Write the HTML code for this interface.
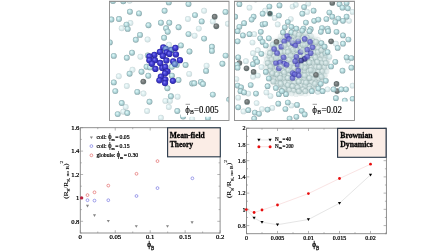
<!DOCTYPE html>
<html><head><meta charset="utf-8"><style>
html,body{margin:0;padding:0;background:#fff;}
svg{display:block;}
text{font-family:"Liberation Serif","DejaVu Serif",serif;fill:#000;stroke:#000;stroke-width:0.24px;}
.tk{font-size:7.2px;}
.tk2{font-size:7.4px;}
.tky{font-size:6.6px;}
.tkry{font-size:6.8px;}
.tkx{font-size:6.0px;}
.lg{font-size:6.6px;}
.lg2{font-size:6.0px;}
.sub{font-size:4.6px;}
.sub2{font-size:5.6px;}
.sub3{font-size:5.4px;}
.phi{font-size:7.2px;}
.bx{font-size:8.2px;font-weight:bold;stroke-width:0.3px;}
.ax{font-size:7.2px;stroke-width:0.3px;}
.axb{font-size:6.2px;stroke-width:0.25px;}
.ylab{font-size:7.4px;stroke-width:0.1px;}
.pl{font-size:9.4px;stroke-width:0.14px;}
.psub{font-size:6.2px;}
</style></head><body>
<svg width="448" height="252" viewBox="0 0 448 252">

<defs>
<radialGradient id="gt" cx="0.5" cy="0.5" r="0.5" fx="0.38" fy="0.35">
 <stop offset="0" stop-color="#eafafb"/><stop offset="0.4" stop-color="#c2e6e8"/><stop offset="0.75" stop-color="#a2c6ca"/><stop offset="1" stop-color="#84a2a6"/></radialGradient>
<radialGradient id="gd" cx="0.5" cy="0.5" r="0.5" fx="0.38" fy="0.35">
 <stop offset="0" stop-color="#9aa0a0"/><stop offset="0.55" stop-color="#727878"/><stop offset="0.85" stop-color="#666e6e"/><stop offset="1" stop-color="#7a8c8c"/></radialGradient>
<radialGradient id="gg" cx="0.5" cy="0.5" r="0.5" fx="0.38" fy="0.35">
 <stop offset="0" stop-color="#6f7f80"/><stop offset="0.6" stop-color="#4f5f60"/><stop offset="1" stop-color="#7fa8a8"/></radialGradient>
<radialGradient id="gb" cx="0.5" cy="0.5" r="0.5" fx="0.38" fy="0.35">
 <stop offset="0" stop-color="#8682f2"/><stop offset="0.45" stop-color="#4642d6"/><stop offset="0.85" stop-color="#302cb4"/><stop offset="1" stop-color="#242090"/></radialGradient>
<radialGradient id="gm" cx="0.5" cy="0.5" r="0.5" fx="0.38" fy="0.35">
 <stop offset="0" stop-color="#a0c0e8"/><stop offset="0.55" stop-color="#6a8ad0"/><stop offset="1" stop-color="#4060a8"/></radialGradient>
<radialGradient id="gb2" cx="0.5" cy="0.5" r="0.5" fx="0.38" fy="0.35">
 <stop offset="0" stop-color="#8c88ee"/><stop offset="0.5" stop-color="#5652d2"/><stop offset="1" stop-color="#3e3ca4"/></radialGradient>
<radialGradient id="gn" cx="0.5" cy="0.5" r="0.5" fx="0.38" fy="0.35">
 <stop offset="0" stop-color="#7070d0"/><stop offset="0.55" stop-color="#3a3aa0"/><stop offset="1" stop-color="#2a2a70"/></radialGradient>
<radialGradient id="gh" cx="0.5" cy="0.5" r="0.5" fx="0.38" fy="0.35">
 <stop offset="0" stop-color="#f2f9f9"/><stop offset="0.5" stop-color="#cadede"/><stop offset="0.85" stop-color="#aec6c6"/><stop offset="1" stop-color="#94acac"/></radialGradient>
<radialGradient id="haze" cx="297" cy="63" r="35" gradientUnits="userSpaceOnUse">
 <stop offset="0" stop-color="#cddcdc"/><stop offset="0.85" stop-color="#d4e2e2"/><stop offset="1" stop-color="#ffffff" stop-opacity="0"/></radialGradient>
<filter id="soft" x="0" y="0" width="1" height="1"><feGaussianBlur stdDeviation="0.3"/></filter>
<clipPath id="c1"><rect x="109.5" y="1.5" width="119.5" height="119"/></clipPath>
<clipPath id="c2"><rect x="234.5" y="1.5" width="120" height="119"/></clipPath>
</defs>

<g filter="url(#soft)">
<rect width="448" height="252" fill="#fff"/>

<rect x="109.5" y="1.5" width="119.5" height="119" fill="#fff"/>
<rect x="234.5" y="1.5" width="120" height="119" fill="#fff"/>
<g clip-path="url(#c1)"><circle cx="129.6" cy="0.8" r="2.95" fill="url(#gt)" opacity="0.45"/><circle cx="130.4" cy="23.0" r="2.95" fill="url(#gt)" opacity="0.45"/><circle cx="121.7" cy="28.3" r="2.95" fill="url(#gt)" opacity="0.45"/><circle cx="147.6" cy="39.5" r="2.95" fill="url(#gt)" opacity="0.45"/><circle cx="187.9" cy="19.0" r="2.95" fill="url(#gt)" opacity="0.45"/><circle cx="204.1" cy="10.8" r="2.95" fill="url(#gt)" opacity="0.45"/><circle cx="212.8" cy="21.4" r="2.95" fill="url(#gt)" opacity="0.45"/><circle cx="198.8" cy="28.6" r="2.95" fill="url(#gt)" opacity="0.45"/><circle cx="194.6" cy="35.7" r="2.95" fill="url(#gt)" opacity="0.45"/><circle cx="227.9" cy="23.8" r="2.95" fill="url(#gt)" opacity="0.45"/><circle cx="140.4" cy="56.7" r="2.95" fill="url(#gt)" opacity="0.45"/><circle cx="132.5" cy="69.8" r="2.95" fill="url(#gt)" opacity="0.45"/><circle cx="118.8" cy="76.2" r="2.95" fill="url(#gt)" opacity="0.45"/><circle cx="169.0" cy="44.8" r="2.95" fill="url(#gt)" opacity="0.45"/><circle cx="189.2" cy="73.9" r="2.95" fill="url(#gt)" opacity="0.45"/><circle cx="126.8" cy="86.0" r="2.95" fill="url(#gt)" opacity="0.45"/><circle cx="143.5" cy="93.5" r="2.95" fill="url(#gt)" opacity="0.45"/><circle cx="125.7" cy="107.0" r="2.95" fill="url(#gt)" opacity="0.45"/><circle cx="123.3" cy="111.7" r="2.95" fill="url(#gt)" opacity="0.45"/><circle cx="147.1" cy="111.0" r="2.95" fill="url(#gt)" opacity="0.45"/><circle cx="177.6" cy="96.7" r="2.95" fill="url(#gt)" opacity="0.45"/><circle cx="165.4" cy="100.9" r="2.95" fill="url(#gt)" opacity="0.45"/><circle cx="169.9" cy="100.9" r="2.95" fill="url(#gt)" opacity="0.45"/><circle cx="168.8" cy="107.0" r="2.95" fill="url(#gt)" opacity="0.45"/><circle cx="160.9" cy="117.8" r="2.95" fill="url(#gt)" opacity="0.45"/><circle cx="192.2" cy="118.9" r="2.95" fill="url(#gt)" opacity="0.45"/><circle cx="206.6" cy="65.7" r="2.95" fill="url(#gt)" opacity="0.45"/><circle cx="113.0" cy="1.0" r="2.95" fill="url(#gt)"/><circle cx="123.3" cy="1.2" r="2.95" fill="url(#gt)"/><circle cx="129.9" cy="11.7" r="2.95" fill="url(#gt)"/><circle cx="139.0" cy="13.4" r="2.95" fill="url(#gt)"/><circle cx="111.4" cy="19.5" r="2.95" fill="url(#gt)"/><circle cx="119.0" cy="19.0" r="2.95" fill="url(#gt)"/><circle cx="126.5" cy="24.6" r="2.95" fill="url(#gt)"/><circle cx="127.7" cy="28.9" r="2.95" fill="url(#gt)"/><circle cx="148.5" cy="25.2" r="2.95" fill="url(#gt)"/><circle cx="140.0" cy="34.9" r="2.95" fill="url(#gt)"/><circle cx="135.8" cy="39.8" r="2.95" fill="url(#gt)"/><circle cx="168.8" cy="2.4" r="2.95" fill="url(#gt)"/><circle cx="188.5" cy="4.0" r="2.95" fill="url(#gt)"/><circle cx="164.6" cy="10.8" r="2.95" fill="url(#gt)"/><circle cx="160.9" cy="22.7" r="2.95" fill="url(#gt)"/><circle cx="169.3" cy="22.7" r="2.95" fill="url(#gt)"/><circle cx="166.1" cy="28.3" r="2.95" fill="url(#gt)"/><circle cx="167.7" cy="31.7" r="2.95" fill="url(#gt)"/><circle cx="178.6" cy="27.3" r="2.95" fill="url(#gt)"/><circle cx="164.1" cy="37.8" r="2.95" fill="url(#gt)"/><circle cx="195.0" cy="15.1" r="2.95" fill="url(#gt)"/><circle cx="225.5" cy="11.9" r="2.95" fill="url(#gt)"/><circle cx="214.7" cy="16.7" r="2.95" fill="url(#gd)"/><circle cx="201.7" cy="21.4" r="2.95" fill="url(#gt)"/><circle cx="216.3" cy="26.2" r="2.95" fill="url(#gd)"/><circle cx="188.5" cy="34.1" r="2.95" fill="url(#gt)"/><circle cx="204.1" cy="38.6" r="2.95" fill="url(#gt)"/><circle cx="109.8" cy="42.4" r="2.95" fill="url(#gt)"/><circle cx="113.8" cy="55.9" r="2.95" fill="url(#gt)"/><circle cx="132.0" cy="52.7" r="2.95" fill="url(#gt)"/><circle cx="126.8" cy="57.8" r="2.95" fill="url(#gt)"/><circle cx="129.6" cy="73.7" r="2.95" fill="url(#gt)"/><circle cx="141.5" cy="71.7" r="2.95" fill="url(#gt)"/><circle cx="148.3" cy="75.7" r="2.95" fill="url(#gt)"/><circle cx="147.8" cy="55.5" r="2.95" fill="url(#gt)"/><circle cx="146.6" cy="66.8" r="2.95" fill="url(#gt)"/><circle cx="180.9" cy="45.4" r="2.95" fill="url(#gt)"/><circle cx="189.5" cy="51.5" r="2.95" fill="url(#gt)"/><circle cx="185.6" cy="65.0" r="2.95" fill="url(#gt)"/><circle cx="171.9" cy="66.8" r="2.95" fill="url(#gt)"/><circle cx="176.7" cy="65.0" r="2.95" fill="url(#gt)"/><circle cx="150.1" cy="67.4" r="2.95" fill="url(#gt)"/><circle cx="143.3" cy="81.6" r="2.95" fill="url(#gd)"/><circle cx="167.4" cy="88.2" r="2.95" fill="url(#gt)"/><circle cx="171.9" cy="75.7" r="2.95" fill="url(#gt)"/><circle cx="178.5" cy="80.0" r="2.95" fill="url(#gt)"/><circle cx="192.2" cy="83.5" r="2.95" fill="url(#gt)"/><circle cx="113.8" cy="82.4" r="2.95" fill="url(#gt)"/><circle cx="115.3" cy="91.1" r="2.95" fill="url(#gt)"/><circle cx="137.3" cy="91.9" r="2.95" fill="url(#gt)"/><circle cx="121.7" cy="103.0" r="2.95" fill="url(#gt)"/><circle cx="117.7" cy="114.1" r="2.95" fill="url(#gt)"/><circle cx="127.3" cy="113.0" r="2.95" fill="url(#gt)"/><circle cx="149.5" cy="101.8" r="2.95" fill="url(#gt)"/><circle cx="170.9" cy="96.3" r="2.95" fill="url(#gt)"/><circle cx="177.3" cy="111.0" r="2.95" fill="url(#gt)"/><circle cx="183.1" cy="116.5" r="2.95" fill="url(#gt)"/><circle cx="194.3" cy="83.3" r="2.95" fill="url(#gt)"/><circle cx="200.9" cy="81.9" r="2.95" fill="url(#gt)"/><circle cx="203.0" cy="84.0" r="2.95" fill="url(#gt)"/><circle cx="212.8" cy="94.6" r="2.95" fill="url(#gt)"/><circle cx="229.2" cy="99.8" r="2.95" fill="url(#gt)"/><circle cx="208.0" cy="118.0" r="2.95" fill="url(#gt)"/><circle cx="211.9" cy="46.8" r="2.95" fill="url(#gt)"/><circle cx="211.9" cy="50.9" r="2.95" fill="url(#gt)"/><circle cx="225.6" cy="55.6" r="2.95" fill="url(#gt)"/><circle cx="222.4" cy="63.7" r="2.95" fill="url(#gt)"/><circle cx="206.1" cy="70.9" r="2.95" fill="url(#gt)"/></g>
<g clip-path="url(#c1)"><circle cx="163.3" cy="47.4" r="3.15" fill="url(#gb)"/><circle cx="165.8" cy="48.9" r="3.1" fill="url(#gm)"/><circle cx="171.4" cy="49.9" r="3.1" fill="url(#gm)"/><circle cx="175.4" cy="47.9" r="3.15" fill="url(#gb)"/><circle cx="159.9" cy="51.9" r="3.15" fill="url(#gb)"/><circle cx="166.5" cy="52.4" r="3.15" fill="url(#gb)"/><circle cx="169.4" cy="53.9" r="3.15" fill="url(#gb)"/><circle cx="175.9" cy="54.4" r="3.15" fill="url(#gb)"/><circle cx="162.8" cy="55.9" r="3.15" fill="url(#gb)"/><circle cx="154.4" cy="54.9" r="3.15" fill="url(#gb)"/><circle cx="149.4" cy="56.4" r="3.15" fill="url(#gb)"/><circle cx="149.4" cy="60.3" r="3.15" fill="url(#gb)"/><circle cx="154.9" cy="60.2" r="3.15" fill="url(#gb)"/><circle cx="151.9" cy="63.8" r="3.15" fill="url(#gb)"/><circle cx="160.2" cy="63.0" r="3.15" fill="url(#gb)"/><circle cx="166.4" cy="60.5" r="3.15" fill="url(#gb)"/><circle cx="173.2" cy="61.4" r="3.15" fill="url(#gb)"/><circle cx="179.9" cy="60.2" r="3.15" fill="url(#gb)"/><circle cx="174.9" cy="64.0" r="3.1" fill="url(#gm)"/><circle cx="155.4" cy="68.9" r="3.15" fill="url(#gb)"/><circle cx="162.3" cy="67.9" r="3.15" fill="url(#gb)"/><circle cx="165.3" cy="66.9" r="3.15" fill="url(#gb)"/><circle cx="167.4" cy="71.4" r="3.15" fill="url(#gb)"/><circle cx="165.0" cy="73.4" r="3.15" fill="url(#gb)"/><circle cx="160.9" cy="76.6" r="3.15" fill="url(#gb)"/><circle cx="159.4" cy="80.3" r="3.15" fill="url(#gb)"/><circle cx="165.3" cy="79.6" r="3.15" fill="url(#gb)"/><circle cx="172.9" cy="80.8" r="3.15" fill="url(#gb)"/><circle cx="165.0" cy="83.1" r="3.15" fill="url(#gb)"/></g>
<circle cx="297" cy="63" r="35" fill="url(#haze)" clip-path="url(#c2)"/>
<g clip-path="url(#c2)"><circle cx="298.4" cy="29.6" r="2.6" fill="url(#gh)" opacity="0.05"/><circle cx="283.5" cy="32.7" r="2.6" fill="url(#gh)" opacity="0.08"/><circle cx="287.4" cy="32.5" r="2.6" fill="url(#gh)" opacity="0.18"/><circle cx="291.6" cy="32.6" r="2.6" fill="url(#gh)" opacity="0.28"/><circle cx="295.8" cy="32.9" r="2.6" fill="url(#gh)" opacity="0.35"/><circle cx="300.5" cy="33.5" r="2.6" fill="url(#gh)" opacity="0.38"/><circle cx="305.1" cy="33.5" r="2.6" fill="url(#gh)" opacity="0.31"/><circle cx="309.8" cy="33.6" r="2.6" fill="url(#gh)" opacity="0.17"/><circle cx="280.5" cy="36.1" r="2.6" fill="url(#gh)" opacity="0.21"/><circle cx="284.7" cy="37.1" r="2.6" fill="url(#gh)" opacity="0.47"/><circle cx="290.0" cy="35.9" r="2.6" fill="url(#gh)" opacity="0.54"/><circle cx="294.0" cy="35.9" r="2.6" fill="url(#gh)" opacity="0.55"/><circle cx="298.5" cy="36.4" r="2.6" fill="url(#gh)" opacity="0.55"/><circle cx="303.2" cy="37.4" r="2.6" fill="url(#gh)" opacity="0.55"/><circle cx="307.0" cy="37.4" r="2.6" fill="url(#gh)" opacity="0.55"/><circle cx="311.1" cy="35.9" r="2.6" fill="url(#gh)" opacity="0.31"/><circle cx="316.0" cy="35.9" r="2.6" fill="url(#gh)" opacity="0.08"/><circle cx="273.9" cy="40.5" r="2.6" fill="url(#gh)" opacity="0.16"/><circle cx="278.6" cy="40.6" r="2.6" fill="url(#gh)" opacity="0.45"/><circle cx="282.9" cy="40.6" r="2.6" fill="url(#gh)" opacity="0.55"/><circle cx="287.9" cy="40.4" r="2.6" fill="url(#gh)" opacity="0.55"/><circle cx="291.5" cy="40.8" r="2.6" fill="url(#gh)" opacity="0.55"/><circle cx="295.6" cy="40.1" r="2.6" fill="url(#gh)" opacity="0.55"/><circle cx="301.2" cy="40.5" r="2.6" fill="url(#gh)" opacity="0.55"/><circle cx="304.9" cy="39.6" r="2.6" fill="url(#gh)" opacity="0.55"/><circle cx="309.1" cy="40.6" r="2.6" fill="url(#gh)" opacity="0.55"/><circle cx="312.8" cy="40.6" r="2.6" fill="url(#gh)" opacity="0.55"/><circle cx="318.2" cy="39.7" r="2.6" fill="url(#gh)" opacity="0.23"/><circle cx="272.1" cy="45.0" r="2.6" fill="url(#gh)" opacity="0.29"/><circle cx="275.8" cy="44.2" r="2.6" fill="url(#gh)" opacity="0.51"/><circle cx="280.7" cy="44.0" r="2.6" fill="url(#gh)" opacity="0.55"/><circle cx="284.8" cy="43.9" r="2.6" fill="url(#gh)" opacity="0.55"/><circle cx="289.2" cy="44.4" r="2.6" fill="url(#gh)" opacity="0.55"/><circle cx="293.5" cy="44.0" r="2.6" fill="url(#gh)" opacity="0.55"/><circle cx="298.6" cy="43.5" r="2.6" fill="url(#gh)" opacity="0.55"/><circle cx="302.7" cy="44.6" r="2.6" fill="url(#gh)" opacity="0.55"/><circle cx="306.7" cy="43.8" r="2.6" fill="url(#gh)" opacity="0.55"/><circle cx="311.9" cy="43.8" r="2.6" fill="url(#gh)" opacity="0.55"/><circle cx="315.3" cy="44.1" r="2.6" fill="url(#gh)" opacity="0.55"/><circle cx="320.5" cy="43.6" r="2.6" fill="url(#gh)" opacity="0.32"/><circle cx="324.3" cy="44.0" r="2.6" fill="url(#gh)" opacity="0.06"/><circle cx="269.3" cy="48.3" r="2.6" fill="url(#gh)" opacity="0.24"/><circle cx="274.6" cy="48.0" r="2.6" fill="url(#gh)" opacity="0.55"/><circle cx="278.0" cy="47.4" r="2.6" fill="url(#gh)" opacity="0.55"/><circle cx="282.8" cy="47.6" r="2.6" fill="url(#gh)" opacity="0.55"/><circle cx="287.7" cy="48.6" r="2.6" fill="url(#gh)" opacity="0.55"/><circle cx="291.1" cy="47.7" r="2.6" fill="url(#gh)" opacity="0.55"/><circle cx="296.5" cy="48.3" r="2.6" fill="url(#gh)" opacity="0.55"/><circle cx="300.9" cy="47.8" r="2.6" fill="url(#gh)" opacity="0.55"/><circle cx="304.2" cy="47.7" r="2.6" fill="url(#gh)" opacity="0.55"/><circle cx="309.7" cy="47.7" r="2.6" fill="url(#gh)" opacity="0.55"/><circle cx="313.4" cy="47.9" r="2.6" fill="url(#gh)" opacity="0.55"/><circle cx="317.9" cy="47.9" r="2.6" fill="url(#gh)" opacity="0.55"/><circle cx="323.1" cy="47.5" r="2.6" fill="url(#gh)" opacity="0.33"/><circle cx="326.0" cy="48.8" r="2.6" fill="url(#gh)" opacity="0.15"/><circle cx="267.3" cy="52.6" r="2.6" fill="url(#gh)" opacity="0.23"/><circle cx="272.5" cy="51.4" r="2.6" fill="url(#gh)" opacity="0.55"/><circle cx="276.6" cy="52.4" r="2.6" fill="url(#gh)" opacity="0.55"/><circle cx="280.9" cy="51.9" r="2.6" fill="url(#gh)" opacity="0.55"/><circle cx="284.7" cy="51.6" r="2.6" fill="url(#gh)" opacity="0.55"/><circle cx="289.0" cy="51.2" r="2.6" fill="url(#gh)" opacity="0.55"/><circle cx="293.9" cy="51.5" r="2.6" fill="url(#gh)" opacity="0.55"/><circle cx="298.7" cy="51.1" r="2.6" fill="url(#gh)" opacity="0.55"/><circle cx="303.2" cy="52.2" r="2.6" fill="url(#gh)" opacity="0.55"/><circle cx="307.7" cy="52.5" r="2.6" fill="url(#gh)" opacity="0.55"/><circle cx="312.0" cy="52.0" r="2.6" fill="url(#gh)" opacity="0.55"/><circle cx="315.0" cy="52.3" r="2.6" fill="url(#gh)" opacity="0.55"/><circle cx="319.7" cy="51.5" r="2.6" fill="url(#gh)" opacity="0.55"/><circle cx="324.9" cy="51.9" r="2.6" fill="url(#gh)" opacity="0.36"/><circle cx="265.4" cy="55.4" r="2.6" fill="url(#gh)" opacity="0.13"/><circle cx="269.2" cy="56.3" r="2.6" fill="url(#gh)" opacity="0.48"/><circle cx="274.0" cy="56.1" r="2.6" fill="url(#gh)" opacity="0.55"/><circle cx="278.2" cy="55.2" r="2.6" fill="url(#gh)" opacity="0.55"/><circle cx="282.9" cy="56.2" r="2.6" fill="url(#gh)" opacity="0.55"/><circle cx="286.7" cy="56.1" r="2.6" fill="url(#gh)" opacity="0.55"/><circle cx="292.3" cy="56.2" r="2.6" fill="url(#gh)" opacity="0.55"/><circle cx="296.5" cy="54.9" r="2.6" fill="url(#gh)" opacity="0.55"/><circle cx="300.6" cy="56.3" r="2.6" fill="url(#gh)" opacity="0.55"/><circle cx="304.1" cy="55.3" r="2.6" fill="url(#gh)" opacity="0.55"/><circle cx="308.8" cy="55.7" r="2.6" fill="url(#gh)" opacity="0.55"/><circle cx="313.5" cy="55.6" r="2.6" fill="url(#gh)" opacity="0.55"/><circle cx="318.4" cy="54.9" r="2.6" fill="url(#gh)" opacity="0.55"/><circle cx="321.7" cy="55.1" r="2.6" fill="url(#gh)" opacity="0.55"/><circle cx="326.2" cy="55.0" r="2.6" fill="url(#gh)" opacity="0.33"/><circle cx="263.8" cy="60.1" r="2.6" fill="url(#gh)" opacity="0.06"/><circle cx="266.7" cy="59.5" r="2.6" fill="url(#gh)" opacity="0.32"/><circle cx="271.5" cy="59.2" r="2.6" fill="url(#gh)" opacity="0.55"/><circle cx="276.0" cy="59.7" r="2.6" fill="url(#gh)" opacity="0.55"/><circle cx="280.7" cy="59.3" r="2.6" fill="url(#gh)" opacity="0.55"/><circle cx="284.5" cy="59.2" r="2.6" fill="url(#gh)" opacity="0.55"/><circle cx="288.8" cy="59.6" r="2.6" fill="url(#gh)" opacity="0.55"/><circle cx="294.1" cy="59.3" r="2.6" fill="url(#gh)" opacity="0.55"/><circle cx="297.5" cy="59.0" r="2.6" fill="url(#gh)" opacity="0.55"/><circle cx="302.4" cy="59.7" r="2.6" fill="url(#gh)" opacity="0.55"/><circle cx="307.5" cy="59.3" r="2.6" fill="url(#gh)" opacity="0.55"/><circle cx="311.9" cy="59.7" r="2.6" fill="url(#gh)" opacity="0.55"/><circle cx="315.7" cy="59.3" r="2.6" fill="url(#gh)" opacity="0.55"/><circle cx="320.2" cy="59.8" r="2.6" fill="url(#gh)" opacity="0.55"/><circle cx="324.5" cy="59.8" r="2.6" fill="url(#gh)" opacity="0.55"/><circle cx="328.9" cy="59.1" r="2.6" fill="url(#gh)" opacity="0.16"/><circle cx="265.3" cy="63.6" r="2.6" fill="url(#gh)" opacity="0.20"/><circle cx="268.9" cy="63.2" r="2.6" fill="url(#gh)" opacity="0.53"/><circle cx="273.9" cy="63.9" r="2.6" fill="url(#gh)" opacity="0.55"/><circle cx="279.1" cy="63.1" r="2.6" fill="url(#gh)" opacity="0.55"/><circle cx="283.4" cy="63.8" r="2.6" fill="url(#gh)" opacity="0.55"/><circle cx="286.8" cy="63.2" r="2.6" fill="url(#gh)" opacity="0.55"/><circle cx="291.0" cy="63.8" r="2.6" fill="url(#gh)" opacity="0.55"/><circle cx="296.3" cy="63.9" r="2.6" fill="url(#gh)" opacity="0.55"/><circle cx="300.9" cy="63.6" r="2.6" fill="url(#gh)" opacity="0.55"/><circle cx="305.2" cy="63.4" r="2.6" fill="url(#gh)" opacity="0.55"/><circle cx="308.6" cy="63.4" r="2.6" fill="url(#gh)" opacity="0.55"/><circle cx="312.8" cy="62.7" r="2.6" fill="url(#gh)" opacity="0.55"/><circle cx="318.4" cy="62.6" r="2.6" fill="url(#gh)" opacity="0.55"/><circle cx="321.7" cy="62.7" r="2.6" fill="url(#gh)" opacity="0.55"/><circle cx="327.4" cy="62.8" r="2.6" fill="url(#gh)" opacity="0.32"/><circle cx="266.8" cy="67.7" r="2.6" fill="url(#gh)" opacity="0.31"/><circle cx="272.1" cy="67.6" r="2.6" fill="url(#gh)" opacity="0.55"/><circle cx="276.9" cy="67.2" r="2.6" fill="url(#gh)" opacity="0.55"/><circle cx="281.1" cy="66.4" r="2.6" fill="url(#gh)" opacity="0.55"/><circle cx="285.4" cy="67.1" r="2.6" fill="url(#gh)" opacity="0.55"/><circle cx="289.7" cy="66.5" r="2.6" fill="url(#gh)" opacity="0.55"/><circle cx="294.2" cy="67.8" r="2.6" fill="url(#gh)" opacity="0.55"/><circle cx="297.5" cy="66.8" r="2.6" fill="url(#gh)" opacity="0.55"/><circle cx="302.7" cy="67.6" r="2.6" fill="url(#gh)" opacity="0.55"/><circle cx="306.6" cy="66.6" r="2.6" fill="url(#gh)" opacity="0.55"/><circle cx="311.0" cy="67.3" r="2.6" fill="url(#gh)" opacity="0.55"/><circle cx="316.2" cy="66.9" r="2.6" fill="url(#gh)" opacity="0.55"/><circle cx="320.0" cy="66.9" r="2.6" fill="url(#gh)" opacity="0.55"/><circle cx="324.4" cy="67.0" r="2.6" fill="url(#gh)" opacity="0.55"/><circle cx="328.3" cy="67.1" r="2.6" fill="url(#gh)" opacity="0.22"/><circle cx="266.0" cy="70.8" r="2.6" fill="url(#gh)" opacity="0.18"/><circle cx="270.0" cy="70.4" r="2.6" fill="url(#gh)" opacity="0.54"/><circle cx="274.3" cy="71.3" r="2.6" fill="url(#gh)" opacity="0.55"/><circle cx="278.7" cy="70.9" r="2.6" fill="url(#gh)" opacity="0.55"/><circle cx="282.8" cy="71.1" r="2.6" fill="url(#gh)" opacity="0.55"/><circle cx="287.8" cy="70.4" r="2.6" fill="url(#gh)" opacity="0.55"/><circle cx="291.0" cy="71.3" r="2.6" fill="url(#gh)" opacity="0.55"/><circle cx="296.7" cy="70.9" r="2.6" fill="url(#gh)" opacity="0.55"/><circle cx="300.3" cy="71.3" r="2.6" fill="url(#gh)" opacity="0.55"/><circle cx="304.3" cy="70.5" r="2.6" fill="url(#gh)" opacity="0.55"/><circle cx="308.7" cy="71.1" r="2.6" fill="url(#gh)" opacity="0.55"/><circle cx="313.3" cy="70.5" r="2.6" fill="url(#gh)" opacity="0.55"/><circle cx="318.3" cy="71.6" r="2.6" fill="url(#gh)" opacity="0.55"/><circle cx="322.1" cy="71.2" r="2.6" fill="url(#gh)" opacity="0.55"/><circle cx="326.7" cy="71.5" r="2.6" fill="url(#gh)" opacity="0.28"/><circle cx="266.9" cy="74.0" r="2.6" fill="url(#gh)" opacity="0.18"/><circle cx="271.8" cy="74.5" r="2.6" fill="url(#gh)" opacity="0.55"/><circle cx="275.7" cy="74.5" r="2.6" fill="url(#gh)" opacity="0.55"/><circle cx="280.3" cy="75.2" r="2.6" fill="url(#gh)" opacity="0.55"/><circle cx="284.4" cy="75.5" r="2.6" fill="url(#gh)" opacity="0.55"/><circle cx="289.4" cy="74.9" r="2.6" fill="url(#gh)" opacity="0.55"/><circle cx="293.7" cy="75.3" r="2.6" fill="url(#gh)" opacity="0.55"/><circle cx="298.7" cy="74.8" r="2.6" fill="url(#gh)" opacity="0.55"/><circle cx="302.6" cy="75.1" r="2.6" fill="url(#gh)" opacity="0.55"/><circle cx="307.6" cy="74.6" r="2.6" fill="url(#gh)" opacity="0.55"/><circle cx="311.8" cy="75.5" r="2.6" fill="url(#gh)" opacity="0.55"/><circle cx="315.7" cy="74.3" r="2.6" fill="url(#gh)" opacity="0.55"/><circle cx="319.8" cy="75.1" r="2.6" fill="url(#gh)" opacity="0.55"/><circle cx="324.9" cy="75.5" r="2.6" fill="url(#gh)" opacity="0.31"/><circle cx="269.1" cy="78.9" r="2.6" fill="url(#gh)" opacity="0.17"/><circle cx="274.6" cy="79.2" r="2.6" fill="url(#gh)" opacity="0.55"/><circle cx="278.0" cy="79.1" r="2.6" fill="url(#gh)" opacity="0.55"/><circle cx="282.5" cy="78.4" r="2.6" fill="url(#gh)" opacity="0.55"/><circle cx="287.6" cy="77.9" r="2.6" fill="url(#gh)" opacity="0.55"/><circle cx="290.9" cy="79.1" r="2.6" fill="url(#gh)" opacity="0.55"/><circle cx="295.7" cy="78.3" r="2.6" fill="url(#gh)" opacity="0.55"/><circle cx="300.5" cy="78.8" r="2.6" fill="url(#gh)" opacity="0.55"/><circle cx="304.0" cy="78.3" r="2.6" fill="url(#gh)" opacity="0.55"/><circle cx="309.1" cy="78.5" r="2.6" fill="url(#gh)" opacity="0.55"/><circle cx="313.1" cy="78.7" r="2.6" fill="url(#gh)" opacity="0.55"/><circle cx="318.7" cy="78.4" r="2.6" fill="url(#gh)" opacity="0.55"/><circle cx="322.5" cy="77.9" r="2.6" fill="url(#gh)" opacity="0.40"/><circle cx="326.4" cy="78.8" r="2.6" fill="url(#gh)" opacity="0.05"/><circle cx="272.5" cy="82.1" r="2.6" fill="url(#gh)" opacity="0.26"/><circle cx="276.6" cy="82.8" r="2.6" fill="url(#gh)" opacity="0.51"/><circle cx="280.3" cy="82.6" r="2.6" fill="url(#gh)" opacity="0.55"/><circle cx="285.2" cy="82.8" r="2.6" fill="url(#gh)" opacity="0.55"/><circle cx="289.0" cy="82.8" r="2.6" fill="url(#gh)" opacity="0.55"/><circle cx="294.5" cy="82.6" r="2.6" fill="url(#gh)" opacity="0.55"/><circle cx="298.3" cy="81.7" r="2.6" fill="url(#gh)" opacity="0.55"/><circle cx="302.6" cy="82.1" r="2.6" fill="url(#gh)" opacity="0.55"/><circle cx="307.3" cy="82.6" r="2.6" fill="url(#gh)" opacity="0.55"/><circle cx="311.5" cy="81.8" r="2.6" fill="url(#gh)" opacity="0.55"/><circle cx="316.0" cy="82.6" r="2.6" fill="url(#gh)" opacity="0.55"/><circle cx="319.7" cy="83.0" r="2.6" fill="url(#gh)" opacity="0.34"/><circle cx="274.2" cy="86.1" r="2.6" fill="url(#gh)" opacity="0.14"/><circle cx="278.1" cy="85.6" r="2.6" fill="url(#gh)" opacity="0.41"/><circle cx="282.1" cy="86.5" r="2.6" fill="url(#gh)" opacity="0.55"/><circle cx="287.6" cy="86.2" r="2.6" fill="url(#gh)" opacity="0.55"/><circle cx="292.0" cy="85.9" r="2.6" fill="url(#gh)" opacity="0.55"/><circle cx="295.6" cy="86.0" r="2.6" fill="url(#gh)" opacity="0.55"/><circle cx="301.0" cy="85.4" r="2.6" fill="url(#gh)" opacity="0.55"/><circle cx="304.8" cy="85.8" r="2.6" fill="url(#gh)" opacity="0.55"/><circle cx="309.6" cy="85.9" r="2.6" fill="url(#gh)" opacity="0.55"/><circle cx="313.3" cy="86.0" r="2.6" fill="url(#gh)" opacity="0.52"/><circle cx="318.1" cy="86.6" r="2.6" fill="url(#gh)" opacity="0.21"/><circle cx="281.1" cy="90.4" r="2.6" fill="url(#gh)" opacity="0.21"/><circle cx="285.1" cy="89.4" r="2.6" fill="url(#gh)" opacity="0.45"/><circle cx="289.2" cy="89.5" r="2.6" fill="url(#gh)" opacity="0.55"/><circle cx="293.8" cy="90.1" r="2.6" fill="url(#gh)" opacity="0.55"/><circle cx="297.7" cy="89.6" r="2.6" fill="url(#gh)" opacity="0.55"/><circle cx="303.1" cy="89.2" r="2.6" fill="url(#gh)" opacity="0.55"/><circle cx="307.5" cy="90.6" r="2.6" fill="url(#gh)" opacity="0.40"/><circle cx="312.1" cy="89.8" r="2.6" fill="url(#gh)" opacity="0.29"/><circle cx="315.9" cy="90.1" r="2.6" fill="url(#gh)" opacity="0.09"/><circle cx="286.5" cy="93.8" r="2.6" fill="url(#gh)" opacity="0.13"/><circle cx="291.8" cy="93.7" r="2.6" fill="url(#gh)" opacity="0.26"/><circle cx="296.1" cy="94.5" r="2.6" fill="url(#gh)" opacity="0.22"/><circle cx="301.0" cy="93.2" r="2.6" fill="url(#gh)" opacity="0.32"/><circle cx="305.3" cy="94.0" r="2.6" fill="url(#gh)" opacity="0.17"/><circle cx="308.5" cy="93.6" r="2.6" fill="url(#gh)" opacity="0.12"/></g>
<g clip-path="url(#c2)"><circle cx="249.5" cy="7.7" r="2.85" fill="url(#gt)" opacity="0.45"/><circle cx="274.7" cy="17.9" r="2.85" fill="url(#gt)" opacity="0.45"/><circle cx="277.7" cy="24.4" r="2.85" fill="url(#gt)" opacity="0.45"/><circle cx="290.8" cy="19.0" r="2.85" fill="url(#gt)" opacity="0.45"/><circle cx="265.2" cy="10.7" r="2.85" fill="url(#gt)" opacity="0.45"/><circle cx="292.6" cy="6.5" r="2.85" fill="url(#gt)" opacity="0.45"/><circle cx="295.8" cy="4.8" r="2.85" fill="url(#gt)" opacity="0.45"/><circle cx="307.1" cy="11.9" r="2.85" fill="url(#gt)" opacity="0.45"/><circle cx="308.3" cy="3.6" r="2.85" fill="url(#gt)" opacity="0.45"/><circle cx="349.0" cy="20.8" r="2.85" fill="url(#gt)" opacity="0.45"/><circle cx="352.6" cy="11.9" r="2.85" fill="url(#gt)" opacity="0.45"/><circle cx="254.2" cy="34.2" r="2.85" fill="url(#gt)" opacity="0.45"/><circle cx="252.5" cy="42.5" r="2.85" fill="url(#gt)" opacity="0.45"/><circle cx="257.8" cy="50.2" r="2.85" fill="url(#gt)" opacity="0.45"/><circle cx="253.0" cy="53.2" r="2.85" fill="url(#gt)" opacity="0.45"/><circle cx="272.9" cy="44.3" r="2.85" fill="url(#gt)" opacity="0.45"/><circle cx="335.9" cy="43.7" r="2.85" fill="url(#gt)" opacity="0.45"/><circle cx="325.2" cy="53.2" r="2.85" fill="url(#gt)" opacity="0.45"/><circle cx="329.4" cy="56.8" r="2.85" fill="url(#gt)" opacity="0.45"/><circle cx="261.4" cy="67.1" r="2.85" fill="url(#gt)" opacity="0.45"/><circle cx="245.9" cy="61.2" r="2.85" fill="url(#gt)" opacity="0.45"/><circle cx="236.4" cy="79.0" r="2.85" fill="url(#gt)" opacity="0.45"/><circle cx="257.8" cy="75.5" r="2.85" fill="url(#gt)" opacity="0.45"/><circle cx="253.0" cy="76.7" r="2.85" fill="url(#gt)" opacity="0.45"/><circle cx="347.8" cy="60.6" r="2.85" fill="url(#gt)" opacity="0.45"/><circle cx="327.6" cy="89.3" r="2.85" fill="url(#gt)" opacity="0.45"/><circle cx="352.6" cy="85.7" r="2.85" fill="url(#gt)" opacity="0.45"/><circle cx="248.3" cy="93.6" r="2.85" fill="url(#gt)" opacity="0.45"/><circle cx="238.2" cy="97.7" r="2.85" fill="url(#gt)" opacity="0.45"/><circle cx="256.6" cy="103.1" r="2.85" fill="url(#gt)" opacity="0.45"/><circle cx="243.5" cy="111.4" r="2.85" fill="url(#gt)" opacity="0.45"/><circle cx="262.0" cy="109.0" r="2.85" fill="url(#gt)" opacity="0.45"/><circle cx="270.5" cy="96.0" r="2.85" fill="url(#gt)" opacity="0.45"/><circle cx="266.4" cy="92.4" r="2.85" fill="url(#gt)" opacity="0.45"/><circle cx="272.3" cy="107.9" r="2.85" fill="url(#gt)" opacity="0.45"/><circle cx="291.4" cy="105.5" r="2.85" fill="url(#gt)" opacity="0.45"/><circle cx="317.8" cy="91.8" r="2.85" fill="url(#gt)" opacity="0.45"/><circle cx="239.4" cy="4.2" r="2.85" fill="url(#gt)"/><circle cx="253.6" cy="16.7" r="2.85" fill="url(#gt)"/><circle cx="251.6" cy="19.6" r="2.85" fill="url(#gt)"/><circle cx="235.2" cy="16.7" r="2.85" fill="url(#gt)"/><circle cx="244.1" cy="23.2" r="2.85" fill="url(#gt)"/><circle cx="239.4" cy="26.8" r="2.85" fill="url(#gt)"/><circle cx="262.6" cy="13.7" r="2.85" fill="url(#gt)"/><circle cx="262.6" cy="24.4" r="2.85" fill="url(#gt)"/><circle cx="255.6" cy="-0.6" r="2.85" fill="url(#gd)"/><circle cx="247.2" cy="-1.0" r="2.85" fill="url(#gd)"/><circle cx="269.4" cy="6.5" r="2.85" fill="url(#gt)"/><circle cx="279.5" cy="5.4" r="2.85" fill="url(#gt)"/><circle cx="270.0" cy="13.7" r="2.85" fill="url(#gg)"/><circle cx="278.9" cy="15.5" r="2.85" fill="url(#gt)"/><circle cx="265.2" cy="23.8" r="2.85" fill="url(#gt)"/><circle cx="287.8" cy="22.0" r="2.85" fill="url(#gt)"/><circle cx="284.8" cy="27.4" r="2.85" fill="url(#gt)"/><circle cx="291.4" cy="26.8" r="2.85" fill="url(#gt)"/><circle cx="304.1" cy="7.1" r="2.85" fill="url(#gt)"/><circle cx="313.6" cy="10.7" r="2.85" fill="url(#gt)"/><circle cx="302.3" cy="13.7" r="2.85" fill="url(#gt)"/><circle cx="305.9" cy="22.6" r="2.85" fill="url(#gt)"/><circle cx="314.2" cy="20.8" r="2.85" fill="url(#gt)"/><circle cx="318.4" cy="19.6" r="2.85" fill="url(#gt)"/><circle cx="296.4" cy="28.6" r="2.85" fill="url(#gt)"/><circle cx="303.5" cy="28.6" r="2.85" fill="url(#gt)"/><circle cx="310.7" cy="29.2" r="2.85" fill="url(#gt)"/><circle cx="322.0" cy="28.0" r="2.85" fill="url(#gt)"/><circle cx="332.3" cy="3.0" r="2.85" fill="url(#gd)"/><circle cx="339.5" cy="4.2" r="2.85" fill="url(#gt)"/><circle cx="346.6" cy="3.0" r="2.85" fill="url(#gt)"/><circle cx="342.5" cy="7.7" r="2.85" fill="url(#gt)"/><circle cx="347.8" cy="8.3" r="2.85" fill="url(#gt)"/><circle cx="329.4" cy="12.5" r="2.85" fill="url(#gt)"/><circle cx="332.3" cy="16.7" r="2.85" fill="url(#gt)"/><circle cx="338.3" cy="18.5" r="2.85" fill="url(#gt)"/><circle cx="346.6" cy="16.7" r="2.85" fill="url(#gt)"/><circle cx="343.0" cy="20.8" r="2.85" fill="url(#gt)"/><circle cx="335.3" cy="22.0" r="2.85" fill="url(#gt)"/><circle cx="326.4" cy="19.0" r="2.85" fill="url(#gt)"/><circle cx="327.6" cy="28.6" r="2.85" fill="url(#gt)"/><circle cx="237.6" cy="31.2" r="2.85" fill="url(#gt)"/><circle cx="242.9" cy="35.4" r="2.85" fill="url(#gt)"/><circle cx="249.5" cy="34.2" r="2.85" fill="url(#gt)"/><circle cx="260.8" cy="31.8" r="2.85" fill="url(#gt)"/><circle cx="237.6" cy="41.3" r="2.85" fill="url(#gt)"/><circle cx="260.2" cy="38.3" r="2.85" fill="url(#gt)"/><circle cx="262.6" cy="41.9" r="2.85" fill="url(#gt)"/><circle cx="261.4" cy="53.8" r="2.85" fill="url(#gt)"/><circle cx="238.2" cy="57.4" r="2.85" fill="url(#gt)"/><circle cx="255.4" cy="58.6" r="2.85" fill="url(#gt)"/><circle cx="283.0" cy="32.4" r="2.85" fill="url(#gt)"/><circle cx="291.4" cy="32.4" r="2.85" fill="url(#gt)"/><circle cx="276.5" cy="41.9" r="2.85" fill="url(#gd)"/><circle cx="268.8" cy="38.3" r="2.85" fill="url(#gt)"/><circle cx="265.8" cy="45.5" r="2.85" fill="url(#gt)"/><circle cx="270.0" cy="53.2" r="2.85" fill="url(#gh)" opacity="0.78"/><circle cx="287.8" cy="52.0" r="2.85" fill="url(#gh)" opacity="0.78"/><circle cx="278.3" cy="58.0" r="2.85" fill="url(#gh)" opacity="0.78"/><circle cx="295.2" cy="33.6" r="2.85" fill="url(#gh)" opacity="0.78"/><circle cx="302.3" cy="30.6" r="2.85" fill="url(#gt)"/><circle cx="309.5" cy="31.2" r="2.85" fill="url(#gt)"/><circle cx="320.8" cy="31.8" r="2.85" fill="url(#gt)"/><circle cx="298.8" cy="34.8" r="2.85" fill="url(#gh)" opacity="0.78"/><circle cx="316.0" cy="41.9" r="2.85" fill="url(#gh)" opacity="0.78"/><circle cx="321.4" cy="43.1" r="2.85" fill="url(#gt)"/><circle cx="302.9" cy="44.9" r="2.85" fill="url(#gh)" opacity="0.78"/><circle cx="317.8" cy="52.0" r="2.85" fill="url(#gh)" opacity="0.78"/><circle cx="296.4" cy="49.6" r="2.85" fill="url(#gh)" opacity="0.78"/><circle cx="321.4" cy="50.2" r="2.85" fill="url(#gh)" opacity="0.78"/><circle cx="315.4" cy="57.4" r="2.85" fill="url(#gh)" opacity="0.78"/><circle cx="328.2" cy="31.2" r="2.85" fill="url(#gt)"/><circle cx="336.5" cy="31.8" r="2.85" fill="url(#gt)"/><circle cx="343.0" cy="35.4" r="2.85" fill="url(#gt)"/><circle cx="348.4" cy="39.5" r="2.85" fill="url(#gt)"/><circle cx="343.0" cy="43.7" r="2.85" fill="url(#gt)"/><circle cx="331.1" cy="41.3" r="2.85" fill="url(#gd)"/><circle cx="337.7" cy="47.9" r="2.85" fill="url(#gt)"/><circle cx="324.6" cy="46.7" r="2.85" fill="url(#gt)"/><circle cx="327.6" cy="52.0" r="2.85" fill="url(#gt)"/><circle cx="346.6" cy="57.4" r="2.85" fill="url(#gt)"/><circle cx="351.4" cy="58.0" r="2.85" fill="url(#gt)"/><circle cx="239.4" cy="63.0" r="2.85" fill="url(#gd)"/><circle cx="237.0" cy="64.8" r="2.85" fill="url(#gt)"/><circle cx="237.6" cy="67.7" r="2.85" fill="url(#gt)"/><circle cx="246.5" cy="68.3" r="2.85" fill="url(#gd)"/><circle cx="253.6" cy="71.9" r="2.85" fill="url(#gd)"/><circle cx="253.0" cy="64.2" r="2.85" fill="url(#gt)"/><circle cx="257.2" cy="61.8" r="2.85" fill="url(#gt)"/><circle cx="237.6" cy="85.6" r="2.85" fill="url(#gt)"/><circle cx="241.1" cy="87.4" r="2.85" fill="url(#gt)"/><circle cx="250.7" cy="85.0" r="2.85" fill="url(#gt)"/><circle cx="267.6" cy="63.0" r="2.85" fill="url(#gh)" opacity="0.78"/><circle cx="270.5" cy="66.5" r="2.85" fill="url(#gh)" opacity="0.78"/><circle cx="265.8" cy="71.9" r="2.85" fill="url(#gt)"/><circle cx="272.3" cy="73.1" r="2.85" fill="url(#gh)" opacity="0.78"/><circle cx="277.1" cy="74.3" r="2.85" fill="url(#gh)" opacity="0.78"/><circle cx="284.2" cy="72.5" r="2.85" fill="url(#gh)" opacity="0.78"/><circle cx="287.8" cy="77.9" r="2.85" fill="url(#gh)" opacity="0.78"/><circle cx="280.1" cy="77.9" r="2.85" fill="url(#gh)" opacity="0.78"/><circle cx="268.8" cy="78.5" r="2.85" fill="url(#gt)"/><circle cx="273.5" cy="81.4" r="2.85" fill="url(#gh)" opacity="0.78"/><circle cx="280.7" cy="83.8" r="2.85" fill="url(#gh)" opacity="0.78"/><circle cx="287.8" cy="85.0" r="2.85" fill="url(#gh)" opacity="0.78"/><circle cx="267.6" cy="86.2" r="2.85" fill="url(#gt)"/><circle cx="275.9" cy="88.0" r="2.85" fill="url(#gt)"/><circle cx="284.2" cy="88.6" r="2.85" fill="url(#gh)" opacity="0.78"/><circle cx="292.6" cy="86.2" r="2.85" fill="url(#gh)" opacity="0.78"/><circle cx="316.0" cy="74.9" r="2.85" fill="url(#gd)"/><circle cx="309.5" cy="62.4" r="2.85" fill="url(#gh)" opacity="0.78"/><circle cx="317.2" cy="61.8" r="2.85" fill="url(#gh)" opacity="0.78"/><circle cx="304.7" cy="67.7" r="2.85" fill="url(#gh)" opacity="0.78"/><circle cx="310.7" cy="70.1" r="2.85" fill="url(#gh)" opacity="0.78"/><circle cx="319.0" cy="67.1" r="2.85" fill="url(#gh)" opacity="0.78"/><circle cx="304.7" cy="75.5" r="2.85" fill="url(#gh)" opacity="0.78"/><circle cx="309.5" cy="77.9" r="2.85" fill="url(#gh)" opacity="0.78"/><circle cx="321.4" cy="76.7" r="2.85" fill="url(#gh)" opacity="0.78"/><circle cx="298.8" cy="81.4" r="2.85" fill="url(#gh)" opacity="0.78"/><circle cx="305.9" cy="82.6" r="2.85" fill="url(#gh)" opacity="0.78"/><circle cx="314.8" cy="83.8" r="2.85" fill="url(#gh)" opacity="0.78"/><circle cx="320.8" cy="83.8" r="2.85" fill="url(#gt)"/><circle cx="297.6" cy="87.4" r="2.85" fill="url(#gh)" opacity="0.78"/><circle cx="309.5" cy="88.6" r="2.85" fill="url(#gh)" opacity="0.78"/><circle cx="318.4" cy="88.6" r="2.85" fill="url(#gt)"/><circle cx="325.8" cy="63.0" r="2.85" fill="url(#gh)" opacity="0.78"/><circle cx="335.3" cy="61.8" r="2.85" fill="url(#gt)"/><circle cx="331.1" cy="66.5" r="2.85" fill="url(#gt)"/><circle cx="342.5" cy="70.7" r="2.85" fill="url(#gt)"/><circle cx="351.4" cy="67.7" r="2.85" fill="url(#gt)"/><circle cx="325.8" cy="80.8" r="2.85" fill="url(#gt)"/><circle cx="336.5" cy="83.9" r="2.85" fill="url(#gd)"/><circle cx="337.1" cy="91.1" r="2.85" fill="url(#gd)"/><circle cx="333.5" cy="89.3" r="2.85" fill="url(#gt)"/><circle cx="341.3" cy="89.3" r="2.85" fill="url(#gt)"/><circle cx="346.0" cy="89.3" r="2.85" fill="url(#gt)"/><circle cx="335.9" cy="98.2" r="2.85" fill="url(#gt)"/><circle cx="344.8" cy="100.6" r="2.85" fill="url(#gt)"/><circle cx="352.6" cy="98.8" r="2.85" fill="url(#gt)"/><circle cx="240.5" cy="91.2" r="2.85" fill="url(#gt)"/><circle cx="244.1" cy="92.4" r="2.85" fill="url(#gt)"/><circle cx="256.0" cy="93.6" r="2.85" fill="url(#gt)"/><circle cx="247.1" cy="101.9" r="2.85" fill="url(#gd)"/><circle cx="238.2" cy="107.3" r="2.85" fill="url(#gt)"/><circle cx="248.3" cy="110.2" r="2.85" fill="url(#gt)"/><circle cx="254.8" cy="112.6" r="2.85" fill="url(#gt)"/><circle cx="259.0" cy="113.8" r="2.85" fill="url(#gt)"/><circle cx="254.2" cy="118.6" r="2.85" fill="url(#gt)"/><circle cx="278.9" cy="94.2" r="2.85" fill="url(#gt)"/><circle cx="286.0" cy="94.2" r="2.85" fill="url(#gt)"/><circle cx="278.3" cy="103.7" r="2.85" fill="url(#gt)"/><circle cx="287.8" cy="102.5" r="2.85" fill="url(#gt)"/><circle cx="267.6" cy="109.6" r="2.85" fill="url(#gt)"/><circle cx="285.4" cy="109.0" r="2.85" fill="url(#gt)"/><circle cx="281.9" cy="91.2" r="2.85" fill="url(#gt)"/><circle cx="289.6" cy="118.6" r="2.85" fill="url(#gt)"/><circle cx="298.8" cy="91.2" r="2.85" fill="url(#gh)" opacity="0.78"/><circle cx="305.3" cy="91.2" r="2.85" fill="url(#gh)" opacity="0.78"/><circle cx="311.9" cy="91.2" r="2.85" fill="url(#gt)"/><circle cx="297.0" cy="104.9" r="2.85" fill="url(#gt)"/><circle cx="301.7" cy="110.8" r="2.85" fill="url(#gt)"/><circle cx="304.7" cy="114.4" r="2.85" fill="url(#gt)"/><circle cx="296.4" cy="116.8" r="2.85" fill="url(#gt)"/><circle cx="322.6" cy="91.2" r="2.85" fill="url(#gt)"/></g>
<g clip-path="url(#c2)"><circle cx="287.2" cy="36.0" r="2.85" fill="url(#gb2)" opacity="0.72"/><circle cx="284.2" cy="41.3" r="2.85" fill="url(#gb2)" opacity="0.72"/><circle cx="289.0" cy="38.9" r="2.85" fill="url(#gb2)" opacity="0.72"/><circle cx="292.6" cy="43.1" r="2.85" fill="url(#gb2)" opacity="0.72"/><circle cx="281.3" cy="46.7" r="2.85" fill="url(#gb2)" opacity="0.72"/><circle cx="274.1" cy="49.0" r="2.85" fill="url(#gb2)" opacity="0.72"/><circle cx="277.1" cy="53.2" r="2.85" fill="url(#gb2)" opacity="0.72"/><circle cx="283.6" cy="57.4" r="2.85" fill="url(#gb2)" opacity="0.72"/><circle cx="304.7" cy="38.9" r="2.85" fill="url(#gb2)" opacity="0.72"/><circle cx="298.2" cy="41.3" r="2.85" fill="url(#gb2)" opacity="0.72"/><circle cx="310.1" cy="41.9" r="2.85" fill="url(#gb2)" opacity="0.72"/><circle cx="312.5" cy="47.3" r="2.85" fill="url(#gb2)" opacity="0.72"/><circle cx="295.2" cy="45.5" r="2.85" fill="url(#gb2)" opacity="0.72"/><circle cx="307.1" cy="49.6" r="2.85" fill="url(#gb2)" opacity="0.72"/><circle cx="300.5" cy="52.0" r="2.85" fill="url(#gb2)" opacity="0.72"/><circle cx="310.7" cy="53.2" r="2.85" fill="url(#gb2)" opacity="0.72"/><circle cx="304.7" cy="58.8" r="2.85" fill="url(#gn)" opacity="0.85"/><circle cx="307.1" cy="56.8" r="2.85" fill="url(#gb2)" opacity="0.72"/><circle cx="296.4" cy="56.8" r="2.85" fill="url(#gb2)" opacity="0.72"/><circle cx="275.9" cy="63.0" r="2.85" fill="url(#gb2)" opacity="0.72"/><circle cx="280.1" cy="62.4" r="2.85" fill="url(#gb2)" opacity="0.72"/><circle cx="284.2" cy="63.6" r="2.85" fill="url(#gb2)" opacity="0.72"/><circle cx="286.6" cy="64.8" r="2.85" fill="url(#gb2)" opacity="0.72"/><circle cx="278.9" cy="68.3" r="2.85" fill="url(#gb2)" opacity="0.72"/><circle cx="292.6" cy="73.1" r="2.85" fill="url(#gb2)" opacity="0.72"/><circle cx="292.6" cy="77.9" r="2.85" fill="url(#gb2)" opacity="0.72"/><circle cx="297.6" cy="64.8" r="2.85" fill="url(#gb2)" opacity="0.72"/><circle cx="298.2" cy="70.7" r="2.85" fill="url(#gb2)" opacity="0.72"/><circle cx="298.8" cy="75.5" r="2.85" fill="url(#gb2)" opacity="0.72"/><circle cx="294.6" cy="74.3" r="2.85" fill="url(#gb2)" opacity="0.72"/><circle cx="301.1" cy="60.6" r="2.85" fill="url(#gn)" opacity="0.85"/><circle cx="295.2" cy="61.2" r="2.85" fill="url(#gb2)" opacity="0.72"/></g>
<g clip-path="url(#c2)"><circle cx="292.4" cy="41.1" r="2.8" fill="url(#gh)" opacity="0.55"/><circle cx="298.3" cy="38.5" r="2.8" fill="url(#gh)" opacity="0.55"/><circle cx="284.5" cy="45.5" r="2.8" fill="url(#gh)" opacity="0.55"/><circle cx="302.5" cy="50.5" r="2.8" fill="url(#gh)" opacity="0.55"/><circle cx="290.5" cy="55.5" r="2.8" fill="url(#gh)" opacity="0.55"/><circle cx="301.5" cy="66" r="2.8" fill="url(#gh)" opacity="0.55"/><circle cx="288.5" cy="70" r="2.8" fill="url(#gh)" opacity="0.55"/><circle cx="276" cy="58" r="2.8" fill="url(#gh)" opacity="0.55"/><circle cx="305" cy="45" r="2.8" fill="url(#gh)" opacity="0.55"/><circle cx="293" cy="49.5" r="2.8" fill="url(#gh)" opacity="0.55"/><circle cx="281" cy="66" r="2.8" fill="url(#gh)" opacity="0.55"/></g>
<rect x="181" y="101.5" width="47.5" height="15.3" fill="#fff"/>
<rect x="308.5" y="101.5" width="45.5" height="15.3" fill="#fff"/>
<rect x="109" y="0" width="120.5" height="1" fill="#e2e2e2"/>
<rect x="234" y="0" width="121" height="1" fill="#e2e2e2"/>
<rect x="109.5" y="1.5" width="119.5" height="119" fill="none" stroke="#8a8a8a" stroke-width="0.9"/>
<rect x="234.5" y="1.5" width="120" height="119" fill="none" stroke="#8a8a8a" stroke-width="0.9"/>
<text id="p1lab" transform="translate(185.20,112.60) scale(0.93,1.0)" class="pl">ϕ<tspan class="psub" dy="1.8" dx="0.2">B</tspan><tspan dy="-1.8" dx="0.3">=0.005</tspan></text>
<line x1="185.6" y1="104.3" x2="190" y2="104.3" stroke="#333" stroke-width="0.5"/>
<text id="p2lab" transform="translate(312.30,112.60) scale(0.95,1.0)" class="pl">ϕ<tspan class="psub" dy="1.8" dx="0.2">B</tspan><tspan dy="-1.8" dx="0.3">=0.02</tspan></text>
<line x1="312.6" y1="104.3" x2="317" y2="104.3" stroke="#333" stroke-width="0.5"/>

<rect x="80.3" y="127.7" width="139.80" height="105.30" fill="none" stroke="#848484" stroke-width="0.9"/><line x1="80.30" y1="233.0" x2="80.30" y2="230.2" stroke="#848484" stroke-width="0.6"/><line x1="80.30" y1="127.7" x2="80.30" y2="130.5" stroke="#848484" stroke-width="0.6"/><line x1="97.78" y1="233.0" x2="97.78" y2="231.5" stroke="#848484" stroke-width="0.6"/><line x1="97.78" y1="127.7" x2="97.78" y2="129.2" stroke="#848484" stroke-width="0.6"/><line x1="115.25" y1="233.0" x2="115.25" y2="230.2" stroke="#848484" stroke-width="0.6"/><line x1="115.25" y1="127.7" x2="115.25" y2="130.5" stroke="#848484" stroke-width="0.6"/><line x1="132.73" y1="233.0" x2="132.73" y2="231.5" stroke="#848484" stroke-width="0.6"/><line x1="132.73" y1="127.7" x2="132.73" y2="129.2" stroke="#848484" stroke-width="0.6"/><line x1="150.20" y1="233.0" x2="150.20" y2="230.2" stroke="#848484" stroke-width="0.6"/><line x1="150.20" y1="127.7" x2="150.20" y2="130.5" stroke="#848484" stroke-width="0.6"/><line x1="167.68" y1="233.0" x2="167.68" y2="231.5" stroke="#848484" stroke-width="0.6"/><line x1="167.68" y1="127.7" x2="167.68" y2="129.2" stroke="#848484" stroke-width="0.6"/><line x1="185.15" y1="233.0" x2="185.15" y2="230.2" stroke="#848484" stroke-width="0.6"/><line x1="185.15" y1="127.7" x2="185.15" y2="130.5" stroke="#848484" stroke-width="0.6"/><line x1="202.62" y1="233.0" x2="202.62" y2="231.5" stroke="#848484" stroke-width="0.6"/><line x1="202.62" y1="127.7" x2="202.62" y2="129.2" stroke="#848484" stroke-width="0.6"/><line x1="220.10" y1="233.0" x2="220.10" y2="230.2" stroke="#848484" stroke-width="0.6"/><line x1="220.10" y1="127.7" x2="220.10" y2="130.5" stroke="#848484" stroke-width="0.6"/><line x1="80.3" y1="233.00" x2="81.8" y2="233.00" stroke="#848484" stroke-width="0.6"/><line x1="220.1" y1="233.00" x2="218.6" y2="233.00" stroke="#848484" stroke-width="0.6"/><line x1="80.3" y1="221.30" x2="83.1" y2="221.30" stroke="#848484" stroke-width="0.6"/><line x1="220.1" y1="221.30" x2="217.29999999999998" y2="221.30" stroke="#848484" stroke-width="0.6"/><line x1="80.3" y1="209.60" x2="81.8" y2="209.60" stroke="#848484" stroke-width="0.6"/><line x1="220.1" y1="209.60" x2="218.6" y2="209.60" stroke="#848484" stroke-width="0.6"/><line x1="80.3" y1="197.90" x2="83.1" y2="197.90" stroke="#848484" stroke-width="0.6"/><line x1="220.1" y1="197.90" x2="217.29999999999998" y2="197.90" stroke="#848484" stroke-width="0.6"/><line x1="80.3" y1="186.20" x2="81.8" y2="186.20" stroke="#848484" stroke-width="0.6"/><line x1="220.1" y1="186.20" x2="218.6" y2="186.20" stroke="#848484" stroke-width="0.6"/><line x1="80.3" y1="174.50" x2="83.1" y2="174.50" stroke="#848484" stroke-width="0.6"/><line x1="220.1" y1="174.50" x2="217.29999999999998" y2="174.50" stroke="#848484" stroke-width="0.6"/><line x1="80.3" y1="162.80" x2="81.8" y2="162.80" stroke="#848484" stroke-width="0.6"/><line x1="220.1" y1="162.80" x2="218.6" y2="162.80" stroke="#848484" stroke-width="0.6"/><line x1="80.3" y1="151.10" x2="83.1" y2="151.10" stroke="#848484" stroke-width="0.6"/><line x1="220.1" y1="151.10" x2="217.29999999999998" y2="151.10" stroke="#848484" stroke-width="0.6"/><line x1="80.3" y1="139.40" x2="81.8" y2="139.40" stroke="#848484" stroke-width="0.6"/><line x1="220.1" y1="139.40" x2="218.6" y2="139.40" stroke="#848484" stroke-width="0.6"/><line x1="80.3" y1="127.70" x2="83.1" y2="127.70" stroke="#848484" stroke-width="0.6"/><line x1="220.1" y1="127.70" x2="217.29999999999998" y2="127.70" stroke="#848484" stroke-width="0.6"/><text id="ly0.8" transform="translate(79.40,223.60)" class="tky" text-anchor="end">0.8</text><text id="ly1" transform="translate(79.40,200.20)" class="tky" text-anchor="end">1</text><text id="ly1.2" transform="translate(79.40,176.80)" class="tky" text-anchor="end">1.2</text><text id="ly1.4" transform="translate(79.40,153.40)" class="tky" text-anchor="end">1.4</text><text id="ly1.6" transform="translate(79.40,130.00)" class="tky" text-anchor="end">1.6</text><text id="lx0" transform="translate(80.30,239.30) scale(1.12,1.0)" class="tkx" text-anchor="middle">0</text><text id="lx0.05" transform="translate(115.25,239.30) scale(1.12,1.0)" class="tkx" text-anchor="middle">0.05</text><text id="lx0.1" transform="translate(150.20,239.30) scale(1.12,1.0)" class="tkx" text-anchor="middle">0.1</text><text id="lx0.15" transform="translate(185.15,239.30) scale(1.12,1.0)" class="tkx" text-anchor="middle">0.15</text><text id="lx0.2" transform="translate(220.10,239.30) scale(1.12,1.0)" class="tkx" text-anchor="middle">0.2</text><path d="M85.95 204.84L89.05 204.84L87.50 207.47Z" fill="#858585"/><path d="M92.95 214.34L96.05 214.34L94.50 216.97Z" fill="#858585"/><path d="M106.75 219.94L109.85 219.94L108.30 222.57Z" fill="#858585"/><path d="M134.75 225.14L137.85 225.14L136.30 227.77Z" fill="#858585"/><path d="M165.95 225.14L169.05 225.14L167.50 227.77Z" fill="#858585"/><path d="M190.55 221.34L193.65 221.34L192.10 223.97Z" fill="#858585"/><circle cx="87.5" cy="200.2" r="1.4" fill="none" stroke="#7070e0" stroke-width="0.65"/><circle cx="94.5" cy="200.6" r="1.4" fill="none" stroke="#7070e0" stroke-width="0.65"/><circle cx="108.3" cy="200.2" r="1.4" fill="none" stroke="#7070e0" stroke-width="0.65"/><circle cx="136.5" cy="196.0" r="1.4" fill="none" stroke="#7070e0" stroke-width="0.65"/><circle cx="157.5" cy="188.1" r="1.4" fill="none" stroke="#7070e0" stroke-width="0.65"/><circle cx="192.4" cy="178.3" r="1.4" fill="none" stroke="#7070e0" stroke-width="0.65"/><circle cx="87.5" cy="195.1" r="1.4" fill="none" stroke="#e06060" stroke-width="0.65"/><circle cx="94.5" cy="192.3" r="1.4" fill="none" stroke="#e06060" stroke-width="0.65"/><circle cx="108.3" cy="185.6" r="1.4" fill="none" stroke="#e06060" stroke-width="0.65"/><circle cx="136.5" cy="173.8" r="1.4" fill="none" stroke="#e06060" stroke-width="0.65"/><circle cx="157.5" cy="161.1" r="1.4" fill="none" stroke="#e06060" stroke-width="0.65"/><circle cx="81.6" cy="197.9" r="1.7" fill="#b82040"/><path d="M89.85 136.44L92.95 136.44L91.40 139.07Z" fill="#858585"/><circle cx="91.4" cy="146.1" r="1.4" fill="none" stroke="#7070e0" stroke-width="0.65"/><circle cx="91.4" cy="155.3" r="1.4" fill="none" stroke="#e06060" stroke-width="0.65"/><text id="leg1" transform="translate(96.50,138.80) scale(0.87,1.0)" class="lg">coil:<tspan class="phi" dx="1.7">ϕ</tspan><tspan class="sub" dy="2.2">m</tspan><tspan dy="-2.2" dx="0.7">=</tspan><tspan dx="1.3">0.05</tspan></text><text id="leg2" transform="translate(96.50,147.70) scale(0.87,1.0)" class="lg">coil:<tspan class="phi" dx="1.7">ϕ</tspan><tspan class="sub" dy="2.2">m</tspan><tspan dy="-2.2" dx="0.7">=</tspan><tspan dx="1.3">0.15</tspan></text><text id="leg3" transform="translate(96.50,157.00) scale(0.87,1.0)" class="lg">globule:<tspan class="phi" dx="1.7">ϕ</tspan><tspan class="sub" dy="2.2">m</tspan><tspan dy="-2.2" dx="0.7">=</tspan><tspan dx="1.3">0.30</tspan></text><rect x="167.6" y="127.8" width="52.7" height="29.0" fill="#fbede6" stroke="#2e3e4e" stroke-width="1.15"/><text id="mf1" transform="translate(169.70,137.80) scale(0.92,1.0)" class="bx">Mean-field</text><text id="mf2" transform="translate(169.70,147.00) scale(0.92,1.0)" class="bx">Theory</text><text id="lxlab" transform="translate(147.20,246.80)" class="ax">ϕ</text><text id="lxlabB" transform="translate(150.90,250.20) scale(0.78,1.0)" class="axb">B</text><text id="lylab" transform="translate(67.50,198.80) rotate(-90) scale(1,0.91)" class="ylab">(R<tspan class="sub3" dy="2">g</tspan><tspan dy="-2">/R</tspan><tspan class="sub3" dy="2">g, no B</tspan><tspan dy="-2">)</tspan><tspan class="sub3" dy="-4.6">2</tspan></text>
<rect x="246.5" y="128.2" width="139.90" height="105.50" fill="none" stroke="#848484" stroke-width="0.9"/><line x1="246.50" y1="233.7" x2="246.50" y2="230.89999999999998" stroke="#848484" stroke-width="0.6"/><line x1="246.50" y1="128.2" x2="246.50" y2="131.0" stroke="#848484" stroke-width="0.6"/><line x1="262.00" y1="233.7" x2="262.00" y2="232.2" stroke="#848484" stroke-width="0.6"/><line x1="262.00" y1="128.2" x2="262.00" y2="129.7" stroke="#848484" stroke-width="0.6"/><line x1="277.50" y1="233.7" x2="277.50" y2="230.89999999999998" stroke="#848484" stroke-width="0.6"/><line x1="277.50" y1="128.2" x2="277.50" y2="131.0" stroke="#848484" stroke-width="0.6"/><line x1="293.00" y1="233.7" x2="293.00" y2="232.2" stroke="#848484" stroke-width="0.6"/><line x1="293.00" y1="128.2" x2="293.00" y2="129.7" stroke="#848484" stroke-width="0.6"/><line x1="308.50" y1="233.7" x2="308.50" y2="230.89999999999998" stroke="#848484" stroke-width="0.6"/><line x1="308.50" y1="128.2" x2="308.50" y2="131.0" stroke="#848484" stroke-width="0.6"/><line x1="324.00" y1="233.7" x2="324.00" y2="232.2" stroke="#848484" stroke-width="0.6"/><line x1="324.00" y1="128.2" x2="324.00" y2="129.7" stroke="#848484" stroke-width="0.6"/><line x1="339.50" y1="233.7" x2="339.50" y2="230.89999999999998" stroke="#848484" stroke-width="0.6"/><line x1="339.50" y1="128.2" x2="339.50" y2="131.0" stroke="#848484" stroke-width="0.6"/><line x1="355.00" y1="233.7" x2="355.00" y2="232.2" stroke="#848484" stroke-width="0.6"/><line x1="355.00" y1="128.2" x2="355.00" y2="129.7" stroke="#848484" stroke-width="0.6"/><line x1="370.50" y1="233.7" x2="370.50" y2="230.89999999999998" stroke="#848484" stroke-width="0.6"/><line x1="370.50" y1="128.2" x2="370.50" y2="131.0" stroke="#848484" stroke-width="0.6"/><line x1="386.00" y1="233.7" x2="386.00" y2="232.2" stroke="#848484" stroke-width="0.6"/><line x1="386.00" y1="128.2" x2="386.00" y2="129.7" stroke="#848484" stroke-width="0.6"/><line x1="246.5" y1="233.70" x2="248.0" y2="233.70" stroke="#848484" stroke-width="0.6"/><line x1="386.4" y1="233.70" x2="384.9" y2="233.70" stroke="#848484" stroke-width="0.6"/><line x1="246.5" y1="225.58" x2="249.3" y2="225.58" stroke="#848484" stroke-width="0.6"/><line x1="386.4" y1="225.58" x2="383.59999999999997" y2="225.58" stroke="#848484" stroke-width="0.6"/><line x1="246.5" y1="217.47" x2="248.0" y2="217.47" stroke="#848484" stroke-width="0.6"/><line x1="386.4" y1="217.47" x2="384.9" y2="217.47" stroke="#848484" stroke-width="0.6"/><line x1="246.5" y1="209.35" x2="249.3" y2="209.35" stroke="#848484" stroke-width="0.6"/><line x1="386.4" y1="209.35" x2="383.59999999999997" y2="209.35" stroke="#848484" stroke-width="0.6"/><line x1="246.5" y1="201.24" x2="248.0" y2="201.24" stroke="#848484" stroke-width="0.6"/><line x1="386.4" y1="201.24" x2="384.9" y2="201.24" stroke="#848484" stroke-width="0.6"/><line x1="246.5" y1="193.12" x2="249.3" y2="193.12" stroke="#848484" stroke-width="0.6"/><line x1="386.4" y1="193.12" x2="383.59999999999997" y2="193.12" stroke="#848484" stroke-width="0.6"/><line x1="246.5" y1="185.01" x2="248.0" y2="185.01" stroke="#848484" stroke-width="0.6"/><line x1="386.4" y1="185.01" x2="384.9" y2="185.01" stroke="#848484" stroke-width="0.6"/><line x1="246.5" y1="176.89" x2="249.3" y2="176.89" stroke="#848484" stroke-width="0.6"/><line x1="386.4" y1="176.89" x2="383.59999999999997" y2="176.89" stroke="#848484" stroke-width="0.6"/><line x1="246.5" y1="168.78" x2="248.0" y2="168.78" stroke="#848484" stroke-width="0.6"/><line x1="386.4" y1="168.78" x2="384.9" y2="168.78" stroke="#848484" stroke-width="0.6"/><line x1="246.5" y1="160.66" x2="249.3" y2="160.66" stroke="#848484" stroke-width="0.6"/><line x1="386.4" y1="160.66" x2="383.59999999999997" y2="160.66" stroke="#848484" stroke-width="0.6"/><line x1="246.5" y1="152.55" x2="248.0" y2="152.55" stroke="#848484" stroke-width="0.6"/><line x1="386.4" y1="152.55" x2="384.9" y2="152.55" stroke="#848484" stroke-width="0.6"/><line x1="246.5" y1="144.43" x2="249.3" y2="144.43" stroke="#848484" stroke-width="0.6"/><line x1="386.4" y1="144.43" x2="383.59999999999997" y2="144.43" stroke="#848484" stroke-width="0.6"/><line x1="246.5" y1="136.32" x2="248.0" y2="136.32" stroke="#848484" stroke-width="0.6"/><line x1="386.4" y1="136.32" x2="384.9" y2="136.32" stroke="#848484" stroke-width="0.6"/><line x1="246.5" y1="128.20" x2="249.3" y2="128.20" stroke="#848484" stroke-width="0.6"/><line x1="386.4" y1="128.20" x2="383.59999999999997" y2="128.20" stroke="#848484" stroke-width="0.6"/><text id="ry0.8" transform="translate(245.50,227.78) scale(0.9,1.0)" class="tkry" text-anchor="end">0.8</text><text id="ry1" transform="translate(245.50,211.55) scale(0.9,1.0)" class="tkry" text-anchor="end">1</text><text id="ry1.2" transform="translate(245.50,195.32) scale(0.9,1.0)" class="tkry" text-anchor="end">1.2</text><text id="ry1.4" transform="translate(245.50,179.09) scale(0.9,1.0)" class="tkry" text-anchor="end">1.4</text><text id="ry1.6" transform="translate(245.50,162.86) scale(0.9,1.0)" class="tkry" text-anchor="end">1.6</text><text id="ry1.8" transform="translate(245.50,146.63) scale(0.9,1.0)" class="tkry" text-anchor="end">1.8</text><text id="ry2" transform="translate(245.50,130.40) scale(0.9,1.0)" class="tkry" text-anchor="end">2</text><text id="rx0" transform="translate(246.50,239.50)" class="tkx" text-anchor="middle">0</text><text id="rx0.005" transform="translate(277.50,239.50)" class="tkx" text-anchor="middle">0.005</text><text id="rx0.01" transform="translate(308.50,239.50)" class="tkx" text-anchor="middle">0.01</text><text id="rx0.015" transform="translate(339.50,239.50)" class="tkx" text-anchor="middle">0.015</text><text id="rx0.02" transform="translate(370.50,239.50)" class="tkx" text-anchor="middle">0.02</text><path d="M246.3 209.6 L254.1 218.0 L262.0 222.2 L277.5 224.7 L308.4 219.5 L339.5 203.2 L370.5 174.9" fill="none" stroke="#d0d0d0" stroke-width="0.55"/><path d="M246.3 209.6 L254.1 212.5 L262.0 210.0 L277.5 205.0 L308.4 193.6 L339.5 178.5 L370.5 164.2" fill="none" stroke="#f4cccc" stroke-width="0.55"/><path d="M252.50 216.80L255.70 216.80L254.10 219.52Z" fill="#000"/><path d="M260.40 221.00L263.60 221.00L262.00 223.72Z" fill="#000"/><path d="M275.90 223.50L279.10 223.50L277.50 226.22Z" fill="#000"/><path d="M306.80 218.30L310.00 218.30L308.40 221.02Z" fill="#000"/><path d="M337.90 202.00L341.10 202.00L339.50 204.72Z" fill="#000"/><path d="M368.90 173.70L372.10 173.70L370.50 176.42Z" fill="#000"/><circle cx="246.3" cy="209.6" r="1.4" fill="#e81010"/><circle cx="254.1" cy="212.5" r="1.4" fill="#e81010"/><circle cx="262.0" cy="210.0" r="1.4" fill="#e81010"/><circle cx="277.5" cy="205.0" r="1.4" fill="#e81010"/><circle cx="308.4" cy="193.6" r="1.4" fill="#e81010"/><circle cx="339.5" cy="178.5" r="1.4" fill="#e81010"/><circle cx="370.5" cy="164.2" r="1.4" fill="#e81010"/><line x1="258.9" y1="140" x2="270.1" y2="140" stroke="#d8d8d8" stroke-width="0.6"/><line x1="258.9" y1="146.7" x2="270.1" y2="146.7" stroke="#f4d0d0" stroke-width="0.6"/><path d="M257.30 138.80L260.50 138.80L258.90 141.52Z" fill="#000"/><path d="M268.50 138.80L271.70 138.80L270.10 141.52Z" fill="#000"/><circle cx="258.9" cy="146.7" r="1.5" fill="#e81010"/><circle cx="270.1" cy="146.7" r="1.5" fill="#e81010"/><text id="rleg1" transform="translate(275.00,140.90) scale(0.85,1.0)" class="lg2">N<tspan class="sub" dy="1.8">m</tspan><tspan dy="-1.8" dx="0.8">=</tspan><tspan dx="0.8">40</tspan></text><text id="rleg2" transform="translate(275.00,147.60) scale(0.85,1.0)" class="lg2">N<tspan class="sub" dy="1.8">m</tspan><tspan dy="-1.8" dx="0.8">=</tspan><tspan dx="0.8">200</tspan></text><rect x="337.6" y="128.4" width="48.5" height="28.9" fill="#fbede6" stroke="#2e3e4e" stroke-width="1.15"/><text id="bd1" transform="translate(340.30,137.60) scale(0.94,1.0)" class="bx">Brownian</text><text id="bd2" transform="translate(340.30,147.10) scale(0.94,1.0)" class="bx">Dynamics</text><text id="rxlab" transform="translate(312.20,246.80)" class="ax">ϕ</text><text id="rxlabB" transform="translate(315.90,250.20) scale(0.78,1.0)" class="axb">B</text><text id="rylab" transform="translate(231.10,198.10) rotate(-90) scale(1,0.91)" class="ylab">(R<tspan class="sub3" dy="2">g</tspan><tspan dy="-2">/R</tspan><tspan class="sub3" dy="2">g, no B</tspan><tspan dy="-2">)</tspan><tspan class="sub3" dy="-4.6">2</tspan></text>
</g>
</svg>
</body></html>
